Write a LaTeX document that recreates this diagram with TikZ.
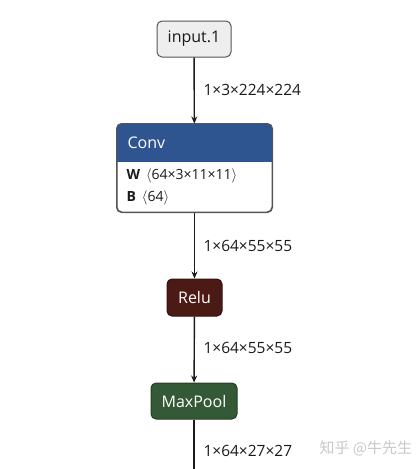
\documentclass[tikz,border=0pt]{standalone}
\usepackage{fontspec}
\setmainfont{Open Sans}
\newfontfamily\cjk{Noto Sans CJK SC}
\usepackage{tikz}
\usetikzlibrary{calc,arrows.meta}
\definecolor{ink}{HTML}{1A1A1A}
\definecolor{edge}{HTML}{555555}
\definecolor{inputgray}{HTML}{EEEEEE}
\definecolor{convblue}{HTML}{2F5590}
\definecolor{relured}{HTML}{4B1A15}
\definecolor{poolgreen}{HTML}{345936}
\definecolor{mark}{HTML}{C8C8C8}
\newcommand{\lbr}{\ensuremath{\langle}}
\newcommand{\rbr}{\ensuremath{\rangle}}
\tikzset{
  flow/.style={draw=ink, line width=1.4pt, -{Stealth[length=7pt,width=6pt]}},
  opbox/.style={draw=edge, line width=1pt, rounded corners=5pt, inner sep=0pt, font=\fontsize{16}{19}\selectfont},
  shape lab/.style={anchor=west, text=ink, font=\fontsize{15.5}{18}\selectfont},
  attr/.style={anchor=west, text=ink, font=\fontsize{14}{17}\selectfont},
}
\begin{document}
\begin{tikzpicture}[x=1pt,y=-1pt]
  \useasboundingbox (0,0) rectangle (416,469);
  % nodes
  \node[opbox, fill=inputgray, text=ink, minimum width=74pt, minimum height=36pt] (in) at (194,39) {input.1};
  \node[opbox, fill=white, minimum width=155pt, minimum height=88pt] (conv) at (194.5,168) {};
  \begin{scope}
    \clip[rounded corners=5pt] (conv.south west) rectangle (conv.north east);
    \fill[convblue] (conv.north west) rectangle ($(conv.north east)+(0,38)$);
  \end{scope}
  \draw[edge, line width=1pt, rounded corners=5pt] (conv.south west) rectangle (conv.north east);
  \node[anchor=west, text=white, font=\fontsize{16}{19}\selectfont] (convname) at (124,143) {Conv};
  \node[attr] (convw) at (123,176) {\textbf{W} \,\lbr 64×3×11×11\rbr};
  \node[attr] (convb) at (123,198) {\textbf{B} \,\lbr 64\rbr};
  \node[opbox, draw=relured!70!black, fill=relured, text=white, minimum width=55pt, minimum height=37pt] (relu) at (194.5,297.5) {Relu};
  \node[opbox, draw=poolgreen!70!black, fill=poolgreen, text=white, minimum width=86pt, minimum height=36pt] (pool) at (194,401) {MaxPool};
  \coordinate (out) at (194,470);
  % connectors
  \draw[flow] (in) -- (conv);
  \draw[flow] (conv) -- (relu);
  \draw[flow] (relu) -- (pool);
  \draw[draw=ink, line width=1.4pt] (pool) -- (out);
  % tensor shapes
  \node[shape lab] (s1) at (200,90) {1×3×224×224};
  \node[shape lab] (s2) at (200,246) {1×64×55×55};
  \node[shape lab] (s3) at (200,348) {1×64×55×55};
  \node[shape lab] (s4) at (200,451) {1×64×27×27};
  \node[anchor=west, text=mark, font=\cjk\fontsize{15}{18}\selectfont] (wm) at (316,448) {知乎 @牛先生};
\end{tikzpicture}
\end{document}
